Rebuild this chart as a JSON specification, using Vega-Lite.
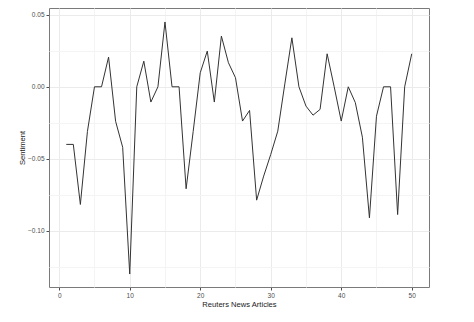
{
  "$schema": "https://vega.github.io/schema/vega-lite/v6.json",
  "autosize": "none",
  "padding": {"left": 49, "top": 8, "right": 45, "bottom": 35},
  "width": 380,
  "height": 279,
  "background": "white",
  "config": {
    "view": {"stroke": "#7a7a7a", "strokeWidth": 1},
    "font": "Liberation Sans",
    "axis": {
      "domain": false,
      "labelFont": "Liberation Sans",
      "titleFont": "Liberation Sans",
      "labelFontSize": 6.5,
      "labelColor": "#4d4d4d",
      "titleFontSize": 7.6,
      "titleFontWeight": "normal",
      "titleColor": "#1a1a1a",
      "tickSize": 3,
      "labelPadding": 2
    }
  },
  "data": {
    "values": [
      {"article": 1, "sentiment": -0.040},
      {"article": 2, "sentiment": -0.040},
      {"article": 3, "sentiment": -0.0817},
      {"article": 4, "sentiment": -0.031},
      {"article": 5, "sentiment": 0.0},
      {"article": 6, "sentiment": 0.0},
      {"article": 7, "sentiment": 0.0206},
      {"article": 8, "sentiment": -0.024},
      {"article": 9, "sentiment": -0.042},
      {"article": 10, "sentiment": -0.130},
      {"article": 11, "sentiment": 0.0},
      {"article": 12, "sentiment": 0.0178},
      {"article": 13, "sentiment": -0.0106},
      {"article": 14, "sentiment": 0.0},
      {"article": 15, "sentiment": 0.045},
      {"article": 16, "sentiment": 0.0},
      {"article": 17, "sentiment": 0.0},
      {"article": 18, "sentiment": -0.0708},
      {"article": 19, "sentiment": -0.031},
      {"article": 20, "sentiment": 0.0097},
      {"article": 21, "sentiment": 0.0248},
      {"article": 22, "sentiment": -0.0106},
      {"article": 23, "sentiment": 0.0352},
      {"article": 24, "sentiment": 0.0167},
      {"article": 25, "sentiment": 0.0063},
      {"article": 26, "sentiment": -0.0238},
      {"article": 27, "sentiment": -0.0164},
      {"article": 28, "sentiment": -0.0787},
      {"article": 29, "sentiment": -0.062},
      {"article": 30, "sentiment": -0.047},
      {"article": 31, "sentiment": -0.0308},
      {"article": 32, "sentiment": 0.002},
      {"article": 33, "sentiment": 0.034},
      {"article": 34, "sentiment": 0.0},
      {"article": 35, "sentiment": -0.0134},
      {"article": 36, "sentiment": -0.0197},
      {"article": 37, "sentiment": -0.0157},
      {"article": 38, "sentiment": 0.0229},
      {"article": 39, "sentiment": 0.0},
      {"article": 40, "sentiment": -0.0238},
      {"article": 41, "sentiment": 0.0},
      {"article": 42, "sentiment": -0.011},
      {"article": 43, "sentiment": -0.035},
      {"article": 44, "sentiment": -0.091},
      {"article": 45, "sentiment": -0.0204},
      {"article": 46, "sentiment": 0.0},
      {"article": 47, "sentiment": 0.0},
      {"article": 48, "sentiment": -0.0887},
      {"article": 49, "sentiment": 0.0},
      {"article": 50, "sentiment": 0.0229}
    ]
  },
  "mark": {"type": "line", "color": "#333333", "strokeWidth": 1},
  "encoding": {
    "x": {
      "field": "article",
      "type": "quantitative",
      "title": "Reuters News Articles",
      "scale": {"domain": [-1.45, 52.45], "nice": false, "zero": false},
      "axis": {
        "values": [0, 5, 10, 15, 20, 25, 30, 35, 40, 45, 50],
        "labelExpr": "datum.value % 10 == 0 ? datum.label : ''",
        "gridColor": {"condition": {"test": "datum.value % 10 != 0", "value": "#f4f4f4"}, "value": "#ebebeb"},
        "tickColor": {"condition": {"test": "datum.value % 10 != 0", "value": "transparent"}, "value": "#4d4d4d"},
        "titlePadding": 2
      }
    },
    "y": {
      "field": "sentiment",
      "type": "quantitative",
      "title": "Sentiment",
      "scale": {"domain": [-0.139, 0.0547], "nice": false, "zero": false},
      "axis": {
        "values": [-0.125, -0.1, -0.075, -0.05, -0.025, 0, 0.025, 0.05],
        "format": ".2f",
        "labelExpr": "abs(round(datum.value * 40)) % 2 == 1 ? '' : datum.label",
        "gridColor": {"condition": {"test": "abs(round(datum.value * 40)) % 2 == 1", "value": "#f4f4f4"}, "value": "#ebebeb"},
        "tickColor": {"condition": {"test": "abs(round(datum.value * 40)) % 2 == 1", "value": "transparent"}, "value": "#4d4d4d"},
        "titlePadding": 1
      }
    }
  }
}
